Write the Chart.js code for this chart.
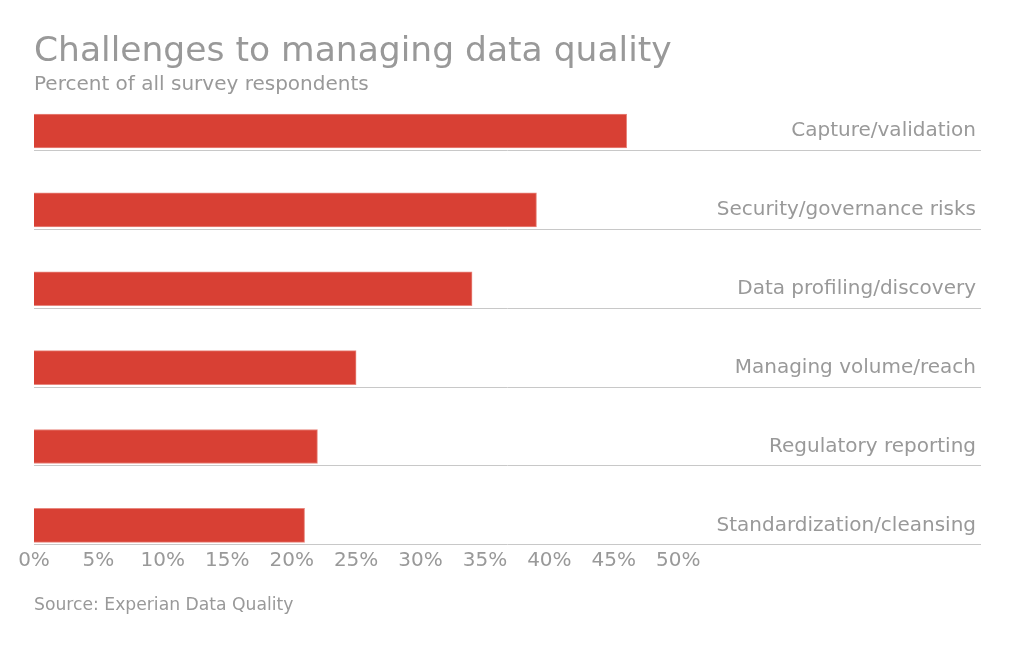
<!DOCTYPE html>
<html>
<head>
<meta charset="utf-8">
<script src="https://cdn.jsdelivr.net/npm/chart.js@4.4.0/dist/chart.umd.min.js"></script>
<style>
  html, body { margin: 0; padding: 0; background: #fff; }
  #wrap { width: 1024px; height: 649px; }
</style>
</head>
<body>
<div id="wrap"><canvas id="grafico"></canvas></div>
<script>
// dados
const categorias = ['Capture/validation', 'Security/governance risks', 'Data profiling/discovery',
    'Managing volume/reach', 'Regulatory reporting', 'Standardization/cleansing'];
const percentuais = [46, 39, 34, 25, 22, 21];
const maxTick = 50;

const cinza = '#999999';
const fonte = '"DejaVu Sans", Verdana, sans-serif';

// linha fina sob cada barra + rótulo da categoria à direita
const linhasERotulos = {
    id: 'linhasERotulos',
    afterDatasetsDraw(chart) {
        const { ctx, chartArea } = chart;
        const meta = chart.getDatasetMeta(0);
        ctx.save();
        meta.data.forEach((bar, i) => {
            const yLinha = Math.round(bar.y + bar.height / 2 + 2) + 0.5;
            ctx.strokeStyle = '#c8c8c8';
            ctx.lineWidth = 1;
            ctx.beginPath();
            ctx.moveTo(chartArea.left, yLinha);
            ctx.lineTo(chartArea.right, yLinha);
            ctx.stroke();

            ctx.fillStyle = cinza;
            ctx.font = '20px ' + fonte;
            ctx.textAlign = 'right';
            ctx.textBaseline = 'middle';
            ctx.fillText(chart.data.labels[i], chartArea.right - 5, bar.y);
        });
        ctx.restore();
    }
};

function desenhar() {
    const ctx = document.getElementById('grafico').getContext('2d');
    return new Chart(ctx, {
        type: 'bar',
        data: {
            labels: categorias,
            datasets: [{
                data: percentuais,
                backgroundColor: '#d84034',
                borderColor: '#e8877e',
                borderWidth: 1,
                barThickness: 34,
                clip: false
            }]
        },
        options: {
            indexAxis: 'y',
            responsive: true,
            maintainAspectRatio: false,
            animation: false,
            layout: { padding: { left: 34, right: 43, top: 0, bottom: 33 } },
            plugins: {
                legend: { display: false },
                tooltip: { enabled: false },
                title: {
                    display: true,
                    text: 'Challenges to managing data quality',
                    align: 'start',
                    color: cinza,
                    font: { family: fonte, size: 34.5, weight: 'normal' },
                    padding: { top: 31, bottom: 0 }
                },
                subtitle: {
                    display: true,
                    text: 'Percent of all survey respondents',
                    align: 'start',
                    color: cinza,
                    font: { family: fonte, size: 20, weight: 'normal' },
                    padding: { top: 0, bottom: 34.6 }
                }
            },
            scales: {
                y: {
                    display: false,
                    offset: false
                },
                x: {
                    min: 0,
                    max: 73.5,
                    grid: { display: false, drawTicks: false },
                    border: { display: false },
                    afterFit(scale) {
                        // sem recuo extra por causa do rótulo "0%"
                        scale.paddingLeft = 0;
                        scale.paddingRight = 0;
                    },
                    ticks: {
                        stepSize: 5,
                        padding: 23,
                        color: cinza,
                        font: { family: fonte, size: 20 },
                        callback: (v) => v <= maxTick ? v + '%' : null
                    },
                    title: {
                        display: true,
                        text: 'Source: Experian Data Quality',
                        align: 'start',
                        color: cinza,
                        font: { family: fonte, size: 17.2 },
                        padding: { top: 0, bottom: 0 }
                    }
                }
            }
        },
        plugins: [linhasERotulos]
    });
}

// esperar a fonte antes de desenhar
Promise.all([
    document.fonts.load('34px "DejaVu Sans"'),
    document.fonts.load('20px "DejaVu Sans"')
]).catch(() => {}).then(desenhar);
</script>
</body>
</html>
